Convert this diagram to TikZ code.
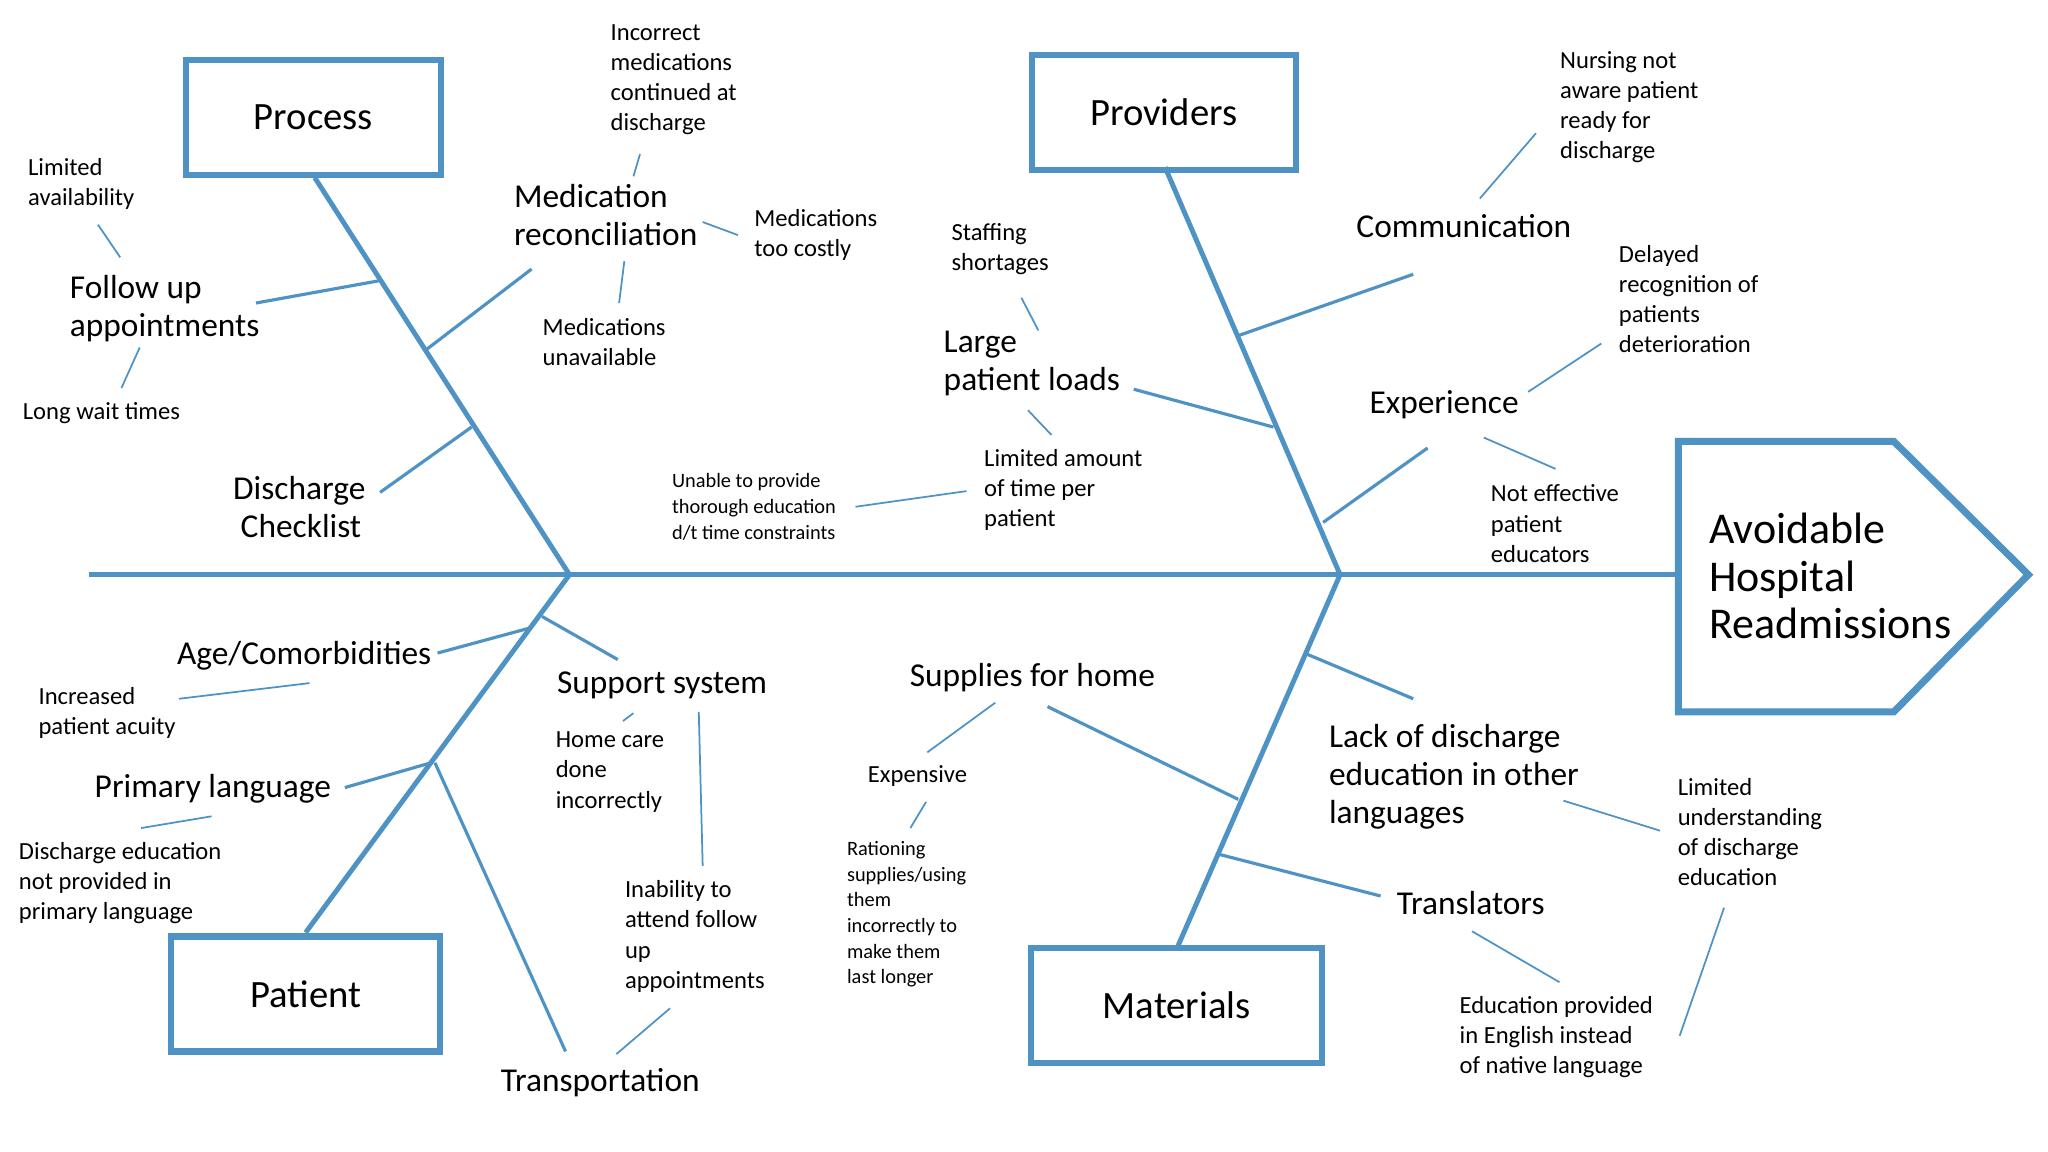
\documentclass[tikz,border=0pt]{standalone}
\usepackage{fontspec}
\setmainfont{Carlito}
\usetikzlibrary{positioning}
\definecolor{fishblue}{RGB}{79,147,197}

\begin{document}
\begin{tikzpicture}[x=0.013061cm,y=-0.013061cm,%
		   bone/.style={draw=fishblue,line width=1.4pt},
		   twig/.style={draw=fishblue,line width=0.9pt},
		   leaf/.style={draw=fishblue,line width=0.5pt},
		   category/.style={draw=fishblue,line width=1.8pt,minimum width=#1,minimum height=1.15cm,font=\fontsize{11}{13}\selectfont},
		   cause/.style={anchor=west,inner sep=0pt,align=left,font=\fontsize{9.5}{10.8}\selectfont},
		   detail/.style={anchor=west,inner sep=0pt,align=left,font=\fontsize{7}{8.6}\selectfont},
		   tiny/.style={anchor=west,inner sep=0pt,align=left,font=\fontsize{5.8}{7.3}\selectfont}]
	\useasboundingbox (0,0) rectangle (1568,882);

	% head and spine
	\draw[fishblue,line width=2pt] (1285,338) -- (1450,338) -- (1553,440) -- (1450,545) -- (1285,545) -- cycle;
	\node[anchor=west,inner sep=0pt,align=left,font=\fontsize{12.5}{13.4}\selectfont] (effect) at (1308,441) {Avoidable\\Hospital\\Readmissions};
	\draw[bone] (68,440) -- (1285,440);

	% categories
	\node[category=2.55cm] (process) at (240,90) {Process};
	\node[category=2.64cm] (providers) at (891,86) {Providers};
	\node[category=2.69cm] (patient) at (234,761) {Patient};
	\node[category=2.91cm] (materials) at (901,770) {Materials};
	\draw[bone] (241,136) -- (436,440);
	\draw[bone] (892,128) -- (1026,440);
	\draw[bone] (234,714) -- (436,440);
	\draw[bone] (902,724) -- (1026,440);

	% process
	\node[cause] (followup) at (53,236) {Follow up\\appointments};
	\draw[twig] (196,232) -- (290,215);
	\node[detail] (limited) at (21,141) {Limited\\availability};
	\draw[leaf] (75,172) -- (92,197);
	\node[detail] (wait) at (17,316) {Long wait times};
	\draw[leaf] (93,297) -- (107,266);
	\node[cause] (medrec) at (393,165) {Medication\\reconciliation};
	\draw[twig] (326,268) -- (407,206);
	\node[detail] (incorrect) at (467,61) {Incorrect\\medications\\continued at\\discharge};
	\draw[leaf] (485,135) -- (490,118);
	\node[detail] (costly) at (577,180) {Medications\\too costly};
	\draw[leaf] (538,170) -- (565,180);
	\node[detail] (unavail) at (415,262) {Medications\\unavailable};
	\draw[leaf] (474,232) -- (478,200);
	\node[cause] (checklist) at (178,388) {Discharge\\\ Checklist};
	\draw[twig] (291,377) -- (361,327);

	% providers
	\node[cause] (comm) at (1038,173) {Communication};
	\draw[twig] (948,257) -- (1082,210);
	\node[detail] (nursing) at (1194,82) {Nursing not\\aware patient\\ready for\\discharge};
	\draw[leaf] (1133,152) -- (1176,102);
	\node[cause] (loads) at (722,278) {Large\\patient loads};
	\draw[twig] (868,298) -- (975,327);
	\node[detail] (staffing) at (728,191) {Staffing\\shortages};
	\draw[leaf] (782,228) -- (795,253);
	\node[detail] (timeper) at (753,375) {Limited amount\\of time per\\patient};
	\draw[leaf] (787,314) -- (805,333);
	\node[tiny] (unable) at (514,388) {Unable to provide\\thorough education\\d/t time constraints};
	\draw[leaf] (655,388) -- (740,376);
	\node[cause] (experience) at (1048,310) {Experience};
	\draw[twig] (1013,400) -- (1093,343);
	\node[detail] (delayed) at (1239,229) {Delayed\\recognition of\\patients\\deterioration};
	\draw[leaf] (1170,300) -- (1226,263);
	\node[detail] (educators) at (1141,401) {Not effective\\patient\\educators};
	\draw[leaf] (1136,335) -- (1191,359);

	% patient
	\node[cause] (age) at (135,502) {Age/Comorbidities};
	\draw[twig] (335,500) -- (405,481);
	\node[detail] (acuity) at (29,546) {Increased\\patient acuity};
	\draw[leaf] (137,535) -- (237,523);
	\node[cause] (support) at (426,525) {Support system};
	\draw[twig] (415,472) -- (473,505);
	\node[detail] (homecare) at (425,591) {Home care\\done\\incorrectly};
	\draw[leaf] (477,552) -- (485,546);
	\node[detail] (inability) at (478,717) {Inability to\\attend follow\\up\\appointments};
	\draw[leaf] (535,545) -- (538,663);
	\node[cause] (language) at (72,604) {Primary language};
	\draw[twig] (264,603) -- (330,584);
	\node[detail] (notprov) at (14,676) {Discharge education\\not provided in\\primary language};
	\draw[leaf] (108,634) -- (162,625);
	\node[cause] (transport) at (383,829) {Transportation};
	\draw[twig] (333,584) -- (433,805);
	\draw[leaf] (472,807) -- (513,772);

	% materials
	\node[cause] (supplies) at (696,519) {Supplies for home};
	\draw[twig] (802,541) -- (948,612);
	\node[detail] (expensive) at (664,594) {Expensive};
	\draw[leaf] (710,576) -- (762,538);
	\node[tiny] (rationing) at (648,700) {Rationing\\supplies/using\\them\\incorrectly to\\make them\\last longer};
	\draw[leaf] (697,634) -- (709,614);
	\node[cause] (lack) at (1017,595) {Lack of discharge\\education in other\\languages};
	\draw[twig] (1001,501) -- (1082,535);
	\node[detail] (understanding) at (1284,637) {Limited\\understanding\\of discharge\\education};
	\draw[leaf] (1197,613) -- (1271,636);
	\draw[leaf] (1286,793) -- (1320,695);
	\node[cause] (translators) at (1069,691) {Translators};
	\draw[twig] (933,654) -- (1057,686);
	\node[detail] (english) at (1117,794) {Education provided\\in English instead\\of native language};
	\draw[leaf] (1127,713) -- (1194,752);
\end{tikzpicture}
\end{document}
